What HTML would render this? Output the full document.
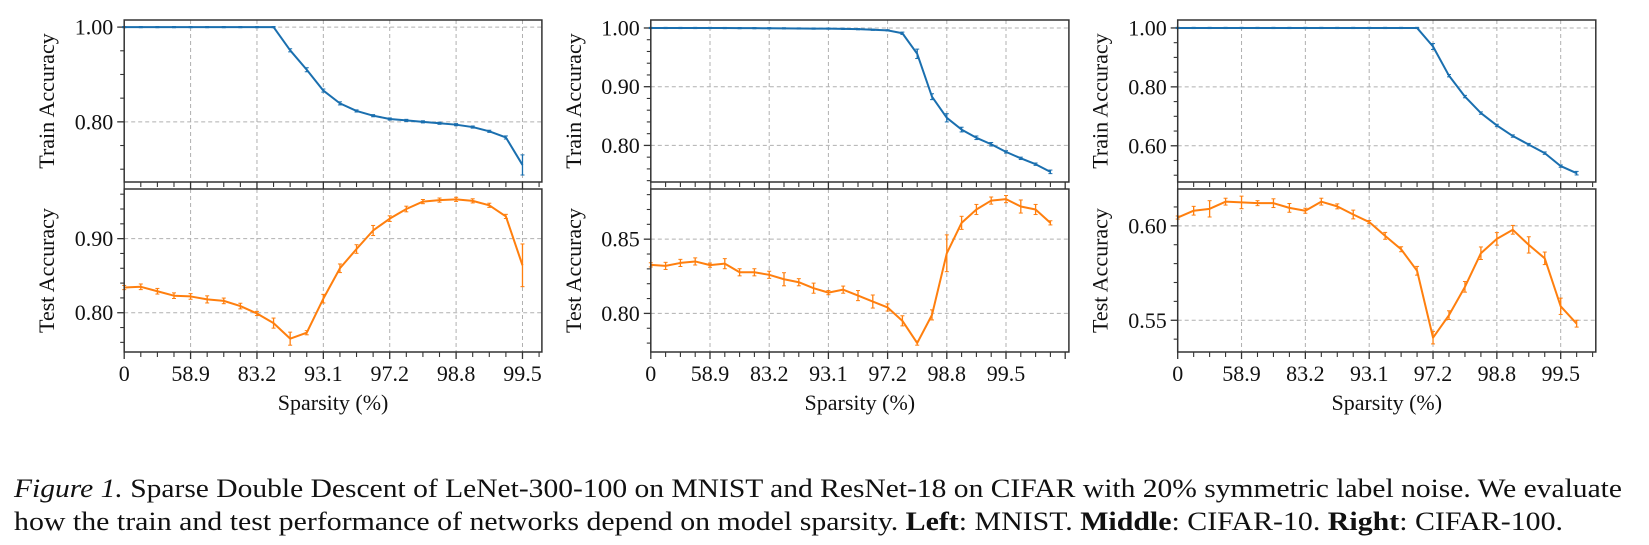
<!DOCTYPE html>
<html><head><meta charset="utf-8"><style>
html,body{margin:0;padding:0;background:#fff;}
svg{display:block;}
text{font-family:"Liberation Serif",serif;fill:#111;}
</style></head><body>
<svg id="fig" width="1649" height="545" viewBox="0 0 1649 545" xmlns="http://www.w3.org/2000/svg">
<g id="panels"></g>
<text x="14" y="497" font-size="26" textLength="1608" lengthAdjust="spacingAndGlyphs"><tspan font-style="italic">Figure 1.</tspan> Sparse Double Descent of LeNet-300-100 on MNIST and ResNet-18 on CIFAR with 20% symmetric label noise. We evaluate</text>
<text x="14" y="530" font-size="26" textLength="1549" lengthAdjust="spacingAndGlyphs">how the train and test performance of networks depend on model sparsity. <tspan font-weight="bold">Left</tspan>: MNIST. <tspan font-weight="bold">Middle</tspan>: CIFAR-10. <tspan font-weight="bold">Right</tspan>: CIFAR-100.</text>
</svg>
<script>
const xTickLabels = ["0","58.9","83.2","93.1","97.2","98.8","99.5"];
const mnistTrain = [1,1,1,1,1,1,1,1,1,1,0.951,0.910,0.866,0.839,0.823,0.813,0.806,0.803,0.800,0.797,0.794,0.789,0.780,0.767,0.709];
const mnistTrainErr = [0,0,0,0,0,0,0,0,0,0,0.002,0.003,0.002,0.002,0.001,0.001,0.001,0.001,0.001,0.001,0.001,0.001,0.001,0.002,0.02];
const mnistTest = [0.834,0.835,0.829,0.823,0.822,0.818,0.816,0.809,0.799,0.786,0.765,0.773,0.819,0.860,0.886,0.911,0.927,0.940,0.950,0.952,0.953,0.951,0.945,0.930,0.864];
const mnistTestErr = [0.002,0.003,0.003,0.003,0.003,0.004,0.003,0.003,0.002,0.006,0.008,0.002,0.005,0.005,0.005,0.006,0.003,0.003,0.002,0.002,0.002,0.002,0.002,0.002,0.028];
const c10Train = [1,1,1,1,1,0.9999,0.9998,0.9997,0.9996,0.9994,0.9992,0.999,0.999,0.9985,0.998,0.997,0.996,0.991,0.956,0.883,0.847,0.827,0.813,0.802,0.789,0.778,0.768,0.755];
const c10TrainErr = [0,0,0,0,0,0,0,0,0,0,0,0,0,0,0,0,0,0.001,0.007,0.004,0.006,0.003,0.002,0.002,0.001,0.001,0.001,0.002];
const c10Test = [0.8327,0.832,0.834,0.835,0.8325,0.8335,0.8277,0.8277,0.826,0.823,0.821,0.817,0.814,0.816,0.812,0.808,0.804,0.795,0.780,0.799,0.8405,0.861,0.870,0.876,0.877,0.872,0.870,0.861];
const c10TestErr = [0.001,0.002,0.002,0.002,0.001,0.003,0.002,0.002,0.002,0.004,0.002,0.003,0.001,0.002,0.003,0.004,0.002,0.003,0.001,0.003,0.012,0.004,0.003,0.002,0.002,0.004,0.003,0.001];
const c100Train = [1,1,1,1,1,1,1,1,1,1,1,1,1,1,1,1,0.937,0.838,0.767,0.711,0.669,0.633,0.604,0.575,0.531,0.507];
const c100TrainErr = [0,0,0,0,0,0,0,0,0,0,0,0,0,0,0,0,0.008,0.002,0.002,0.002,0.002,0.002,0.002,0.002,0.002,0.004];
const c100Test = [0.6044,0.608,0.609,0.6128,0.6124,0.612,0.612,0.6095,0.608,0.6128,0.6103,0.606,0.602,0.5947,0.5876,0.5762,0.5408,0.5527,0.5677,0.5855,0.5931,0.5979,0.5899,0.5828,0.5574,0.5482];
const c100TestErr = [0.0005,0.002,0.004,0.0015,0.003,0.001,0.002,0.002,0.001,0.0015,0.001,0.002,0.0005,0.0015,0.001,0.002,0.003,0.002,0.0025,0.003,0.003,0.002,0.004,0.003,0.004,0.0015];

const NS="http://www.w3.org/2000/svg";
const root=document.getElementById('panels');
function mk(tag,attrs,parent){const e=document.createElementNS(NS,tag);for(const k in attrs)e.setAttribute(k,attrs[k]);(parent||root).appendChild(e);return e;}

const panels=[
 {name:'mnist',x0:124.2,x1:541.9,xmax:25.17,
  top:{data:mnistTrain,err:mnistTrainErr,ymin:0.673,ymax:1.015,major:[1.0,0.8],minorStep:0.05},
  bot:{data:mnistTest,err:mnistTestErr,ymin:0.747,ymax:0.967,major:[0.9,0.8],minorStep:0.02}},
 {name:'cifar10',x0:650.8,x1:1068.9,xmax:28.25,
  top:{data:c10Train,err:c10TrainErr,ymin:0.7377,ymax:1.0136,major:[1.0,0.9,0.8],minorStep:0.02},
  bot:{data:c10Test,err:c10TestErr,ymin:0.774,ymax:0.8838,major:[0.85,0.8],minorStep:0.01}},
 {name:'cifar100',x0:1177.7,x1:1595.8,xmax:26.2,
  top:{data:c100Train,err:c100TrainErr,ymin:0.477,ymax:1.027,major:[1.0,0.8,0.6],minorStep:0.05},
  bot:{data:c100Test,err:c100TestErr,ymin:0.5332,ymax:0.6195,major:[0.6,0.55],minorStep:0.01}}
];
const rows=[{key:'top',y0:20,y1:182,color:'#1a6faf',label:'Train Accuracy'},{key:'bot',y0:189,y1:352,color:'#ff7f0e',label:'Test Accuracy'}];

panels.forEach(p=>{
 const xs=i=>p.x0+(i/p.xmax)*(p.x1-p.x0);
 rows.forEach(r=>{
  const s=p[r.key];
  const ys=v=>r.y1-(v-s.ymin)/(s.ymax-s.ymin)*(r.y1-r.y0);
  const g=mk('g',{});
  
  
  for(let k=0;k<xTickLabels.length;k++){const x=xs(k*4);
   const l=mk('line',{x1:x,x2:x,y1:r.y0,y2:r.y1,stroke:'#b0b0b0','stroke-width':1,'stroke-dasharray':'4,3'},g);
   
   }
  s.major.forEach(v=>{const y=ys(v);
   const l=mk('line',{x1:p.x0,x2:p.x1,y1:y,y2:y,stroke:'#b0b0b0','stroke-width':1,'stroke-dasharray':'4,3'},g);
   
   
   const t=mk('text',{x:p.x0-11,y:y+7.5,'font-size':22,'text-anchor':'end'},g);t.textContent=v.toFixed(2);
   
   
   mk('line',{x1:p.x0-7,x2:p.x0,y1:y,y2:y,stroke:'#333','stroke-width':1.3},g);});
  const st=s.minorStep;
  for(let v=Math.ceil(s.ymin/st-1e-6)*st;v<=s.ymax+1e-9;v+=st){
   if(s.major.some(m=>Math.abs(m-v)<1e-6))continue;const y=ys(v);
   mk('line',{x1:p.x0-4,x2:p.x0,y1:y,y2:y,stroke:'#333','stroke-width':1.1},g);}
  for(let i=0;i<=Math.floor(p.xmax);i++){const x=xs(i);const maj=i%4===0;
   mk('line',{x1:x,x2:x,y1:r.y1,y2:r.y1+(maj?7:5),stroke:'#333','stroke-width':maj?1.3:1.1},g);}
  const pts=s.data.map((v,i)=>xs(i)+','+ys(v)).join(' ');
  const pl=mk('polyline',{points:pts,fill:'none',stroke:r.color,'stroke-width':2,'stroke-linejoin':'round'},g);
  
  
  s.data.forEach((v,i)=>{const e=s.err[i];const x=xs(i);
   const eb=mk('line',{x1:x,x2:x,y1:ys(v-e)+0.6,y2:ys(v+e)-0.6,stroke:r.color,'stroke-width':1.3},g);
   
   
   mk('line',{x1:x-2,x2:x+2,y1:ys(v-e)+0.6,y2:ys(v-e)+0.6,stroke:r.color,'stroke-width':1},g);
   mk('line',{x1:x-2,x2:x+2,y1:ys(v+e)-0.6,y2:ys(v+e)-0.6,stroke:r.color,'stroke-width':1},g);});
  mk('rect',{x:p.x0,y:r.y0,width:p.x1-p.x0,height:r.y1-r.y0,fill:'none',stroke:'#333','stroke-width':1.5},g);
  const cy=(r.y0+r.y1)/2, cx=p.x0-70;
  const yl=mk('text',{x:cx,y:cy,'font-size':22,'text-anchor':'middle',transform:'rotate(-90 '+cx+' '+cy+')'},g);
  yl.textContent=r.label;
  
  
  if(r.key==='bot'){
   xTickLabels.forEach((lab,k)=>{const t=mk('text',{x:xs(k*4),y:381,'font-size':22,'text-anchor':'middle'},g);t.textContent=lab;
    
    });
   const xt=mk('text',{x:(p.x0+p.x1)/2,y:410,'font-size':22,'text-anchor':'middle'},g);xt.textContent='Sparsity (%)';
   
   
  }
 });
});
</script>
</body></html>
